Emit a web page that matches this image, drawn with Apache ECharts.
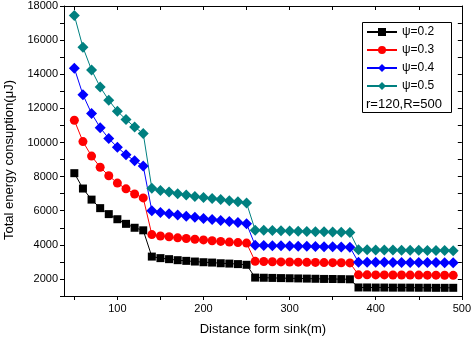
<!DOCTYPE html>
<html><head><meta charset="utf-8">
<script src="https://cdn.jsdelivr.net/npm/echarts@6/dist/echarts.min.js"></script>
<style>html,body{margin:0;padding:0;background:#fff}#c{width:474px;height:342px}</style>
</head><body><div id="c"></div>
<script>
var distances = [50,60,70,80,90,100,110,120,130,140,150,160,170,180,190,200,210,220,230,240,250,260,270,280,290,300,310,320,330,340,350,360,370,380,390,400,410,420,430,440,450,460,470,480,490];
var psi02 = [8200,7300,6650,6150,5800,5500,5230,5000,4850, 3310,3220,3160,3100,3060,3020,2980,2960,2920,2900,2870,2830, 2080,2070,2060,2050,2040,2030,2020,2010,2000,1995,1990,1980, 1500,1500,1495,1495,1490,1490,1490,1485,1485,1480,1480,1480];
var psi03 = [11300,10050,9200,8550,8050,7620,7280,6980,6750, 4600,4520,4470,4410,4370,4330,4290,4240,4200,4160,4130,4100, 3030,3020,3010,3000,2990,2985,2975,2970,2960,2955,2950,2940, 2240,2240,2235,2235,2230,2230,2225,2225,2220,2220,2215,2210];
var psi04 = [14350,12800,11700,10870,10230,9720,9280,8930,8620, 6000,5900,5820,5750,5670,5610,5550,5490,5430,5370,5310,5240, 3970,3960,3950,3940,3930,3920,3910,3900,3890,3880,3870,3860, 2980,2980,2975,2975,2970,2970,2965,2965,2960,2960,2955,2950];
var psi05 = [17450,15580,14250,13250,12480,11830,11350,10900,10530, 7310,7190,7100,7000,6920,6840,6770,6710,6650,6590,6530,6450, 4860,4850,4835,4820,4810,4795,4785,4770,4760,4745,4735,4725, 3710,3705,3700,3695,3690,3685,3680,3675,3670,3665,3660,3655];
var seriesNames = ['\u03c8=0.2','\u03c8=0.3','\u03c8=0.4','\u03c8=0.5'];
var xTicks = [50,100,150,200,250,300,350,400,450,500];
var xLabels = [100,200,300,400,500];

function pairs(v){ return distances.map(function(d,i){ return [d, v[i]]; }); }
var F = 'Arial, "Liberation Sans", sans-serif';
var chart = echarts.init(document.getElementById('c'), null, {renderer:'canvas'});
var styles = [
  {c:'#000000', s:'rect', z:8},
  {c:'#ff0000', s:'circle', z:9},
  {c:'#0000ff', s:'diamond', z:11},
  {c:'#008080', s:'diamond', z:11}
];
var datas = [psi02, psi03, psi04, psi05];
var series = datas.map(function(d,i){
  return {
    name: seriesNames[i], type:'line', data: pairs(d), xAxisIndex:0, yAxisIndex:0,
    symbol: styles[i].s, symbolSize: styles[i].z, showSymbol:true,
    lineStyle:{color:styles[i].c, width:1}, itemStyle:{color:styles[i].c},
    animation:false
  };
});
var axisLineStyle = {show:true, lineStyle:{color:'#000', width:1}};
chart.setOption({
  animation:false,
  grid:{left:64, right:11, top:6, bottom:46},
  legend:{
    orient:'vertical', left:366, top:26, itemWidth:30, itemHeight:10, itemGap:6,
    data: seriesNames, textStyle:{fontFamily:F, fontSize:12, color:'#000'},
    padding:0
  },
  graphic:[
    {type:'rect', shape:{x:362.5, y:22.5, width:89, height:90}, style:{fill:null, stroke:'#000', lineWidth:1}, z:100},
    {type:'text', left:366, top:98, style:{text:'r=120,R=500', font:'13px '+F, fill:'#000'}, z:100},
    {type:'text', x:9, y:160, rotation:Math.PI/2, style:{text:'Total energy consuption(\u03bcJ)', font:'13px '+F, fill:'#000', align:'center', verticalAlign:'middle'}}
  ],
  xAxis:[
    {type:'value', min:38, max:500, position:'bottom',
     axisLine:axisLineStyle, splitLine:{show:false},
     axisTick:{show:true, inside:false, length:4, customValues:xTicks, lineStyle:{color:'#000'}},
     axisLabel:{customValues:xLabels, fontFamily:F, fontSize:11, color:'#000', margin:7},
     name:'Distance form sink(m)', nameLocation:'middle', nameGap:27,
     nameTextStyle:{fontFamily:F, fontSize:13, color:'#000'}},
    {type:'value', min:38, max:500, position:'top',
     axisLine:axisLineStyle, splitLine:{show:false},
     axisTick:{show:true, inside:true, length:4, customValues:xTicks, lineStyle:{color:'#000'}},
     axisLabel:{show:false}}
  ],
  yAxis:[
    {type:'value', min:1000, max:18000, interval:1000, position:'left',
     axisLine:axisLineStyle, splitLine:{show:false},
     axisTick:{show:true, inside:false, length:4, lineStyle:{color:'#000'}},
     axisLabel:{fontFamily:F, fontSize:11, color:'#000', margin:6,
       formatter:function(v){ return (v % 2000 === 0) ? String(v) : ''; }}},
    {type:'value', min:1000, max:18000, interval:1000, position:'right',
     axisLine:axisLineStyle, splitLine:{show:false},
     axisTick:{show:true, inside:true, length:4, lineStyle:{color:'#000'}},
     axisLabel:{show:false}}
  ],
  series: series
});
</script></body></html>
